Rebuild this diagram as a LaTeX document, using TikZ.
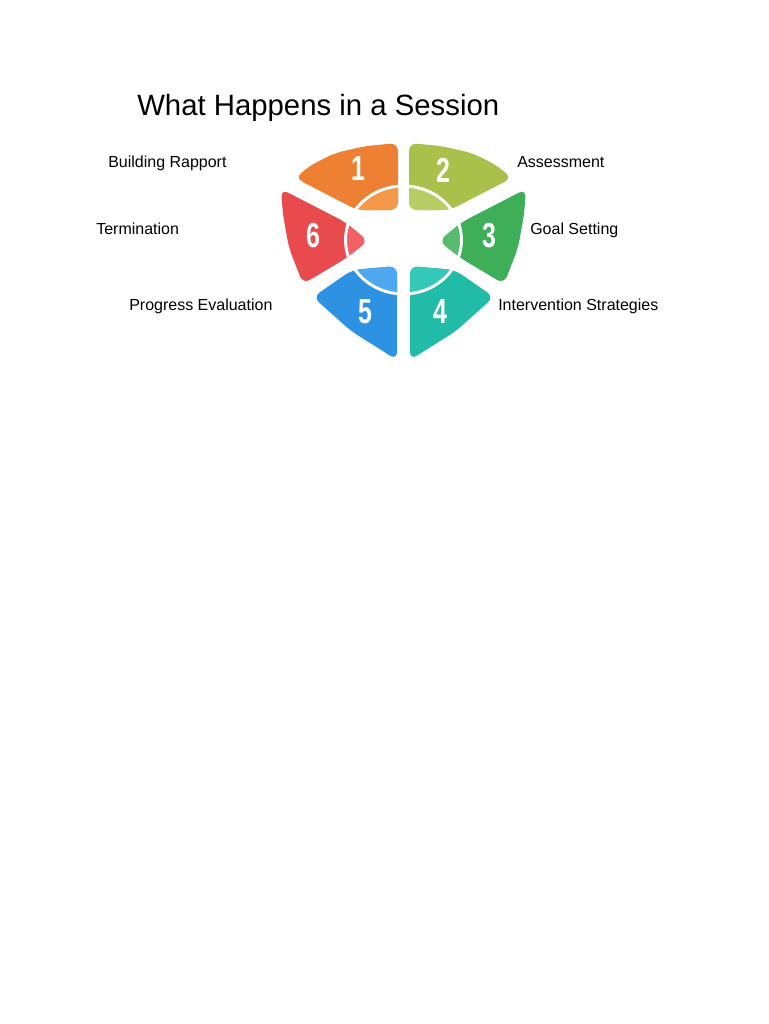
\documentclass[tikz,border=0pt]{standalone}
\usepackage{fontspec}
\setmainfont{Liberation Sans}
\usetikzlibrary{positioning}

\definecolor{stepone}{RGB}{238,128,52}
\definecolor{steponel}{RGB}{244,152,74}
\definecolor{steptwo}{RGB}{169,192,74}
\definecolor{steptwol}{RGB}{184,205,100}
\definecolor{stepthree}{RGB}{62,174,88}
\definecolor{stepthreel}{RGB}{88,188,110}
\definecolor{stepfour}{RGB}{34,187,167}
\definecolor{stepfourl}{RGB}{54,200,184}
\definecolor{stepfive}{RGB}{46,146,226}
\definecolor{stepfivel}{RGB}{78,168,240}
\definecolor{stepsix}{RGB}{232,74,78}
\definecolor{stepsixl}{RGB}{240,98,102}

\tikzset{
  petal/.style={rounded corners=6pt},
  ring/.style={draw=white,line width=2.2pt},
  num/.style={text=white,font=\fontsize{26}{26}\selectfont\bfseries,xscale=.72},
  lbl/.style={anchor=base west,inner sep=0pt,font=\fontsize{12}{14}\selectfont},
}

% petal outlines (px, y down)
\def\petalA{(295,178) -- (311,165) -- (335,153) -- (366,146) -- (398,143) -- (398,210) -- (357,210) -- cycle}
\def\petalB{(512,178) -- (496,165) -- (472,153) -- (441,146) -- (409,143) -- (409,210) -- (450,210) -- cycle}
\def\petalC{(526,189) -- (524,215) -- (518,248) -- (504,284) -- (462,259) -- (439,241) -- (462,222) -- cycle}
\def\petalD{(494,297) -- (456,331) -- (410,360) -- (410,266) -- (455,270) -- cycle}
\def\petalE{(313,297) -- (351,331) -- (397,360) -- (397,266) -- (352,270) -- cycle}
\def\petalF{(281,189) -- (283,215) -- (289,248) -- (303,284) -- (345,259) -- (368,241) -- (345,222) -- cycle}

\begin{document}
\begin{tikzpicture}[x=0.75pt,y=-0.75pt]
  \useasboundingbox (0,0) rectangle (768,1024);
  \coordinate (c) at (403.5,240);

  \node[anchor=base west,inner sep=0pt,font=\fontsize{22}{24}\selectfont] (title) at (137,115) {What Happens in a Session};

  % petals: dark part, light inner part, white ring
  \foreach \p/\dk/\lt in {\petalA/stepone/steponel,\petalB/steptwo/steptwol,
      \petalC/stepthree/stepthreel,\petalD/stepfour/stepfourl,
      \petalE/stepfive/stepfivel,\petalF/stepsix/stepsixl}{
    \fill[petal,\dk] \p;
    \begin{scope}
      \clip[petal] \p;
      \fill[\lt] (c) ellipse (58 and 54);
    \end{scope}
  }
  \draw[ring] (c) ellipse (58 and 54);

  \node[num] (n1) at (358,169) {1};
  \node[num] (n2) at (443,170) {2};
  \node[num] (n3) at (489,236) {3};
  \node[num] (n4) at (440,312) {4};
  \node[num] (n5) at (365,312) {5};
  \node[num] (n6) at (313,236) {6};

  \node[lbl] (rapport) at (108,167) {Building Rapport};
  \node[lbl] (assess) at (517,167) {Assessment};
  \node[lbl] (term) at (96,234) {Termination};
  \node[lbl] (goal) at (530,234) {Goal Setting};
  \node[lbl] (progress) at (129,310) {Progress Evaluation};
  \node[lbl] (interv) at (498,310) {Intervention Strategies};
\end{tikzpicture}
\end{document}
